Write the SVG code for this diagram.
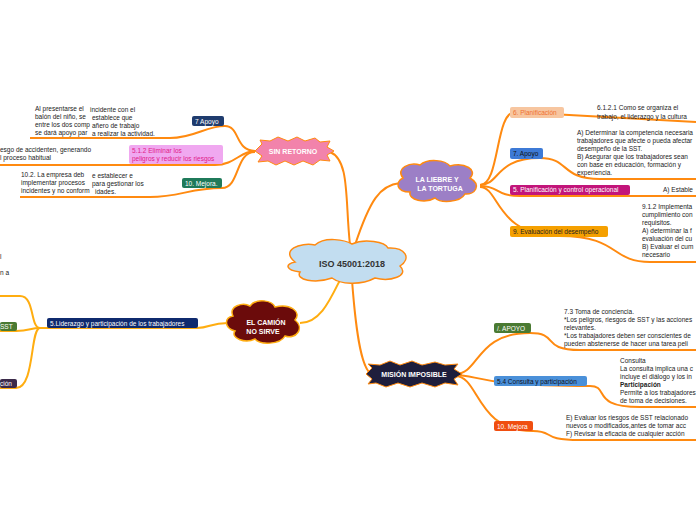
<svg xmlns="http://www.w3.org/2000/svg" width="696" height="520" viewBox="0 0 696 520">
<style>
text{font-family:"Liberation Sans",Arial,sans-serif;font-size:6.5px;fill:#222}
.lb{font-size:6.5px;fill:#fff}
.c{fill:none;stroke:#ff8a10;stroke-width:2}
.y{fill:none;stroke:#ffad10;stroke-width:2}
.t{font-weight:bold;font-size:8px;fill:#fff;text-anchor:middle}
</style>
<rect width="696" height="520" fill="#fff"/>
<g id="connectors">
<path class="c" d="M350,245 C345,200 350,160 330,152"/>
<path class="c" d="M355,245 C370,200 380,185 400,183"/>
<path class="y" d="M340,280 C330,300 320,323 300,323"/>
<path class="c" d="M352,280 C355,320 360,370 372,374"/>
<path class="c" d="M480,185 C500,185 495,112 515,112 L696,122"/>
<path class="c" d="M480,185 C500,185 495,158 540,158 C570,158 560,179 600,179 L696,179"/>
<path class="c" d="M480,186 C500,186 495,196 520,196 L696,196"/>
<path class="c" d="M480,187 C500,187 495,236 560,236 C620,236 610,262 650,262 L696,262"/>
<path class="c" d="M455,374 C480,374 475,333 530,333 C560,333 540,350 580,350 L696,350"/>
<path class="c" d="M455,375 C480,375 475,386 590,386 C610,386 590,407 640,407 L696,407"/>
<path class="c" d="M455,376 C480,376 475,431 533,431 C555,431 540,440 580,440 L696,440"/>
<path class="c" d="M255,151 C235,151 240,126 225,126 C205,126 195,138 170,138 L30,138"/>
<path class="c" d="M255,151 C240,151 235,165 215,165 L0,165"/>
<path class="c" d="M255,152 C235,152 240,188 222,188 C190,188 180,197 150,197 L20,197"/>
<path class="y" d="M228,323 C210,323 210,328 197,328 L40,328"/>
<path class="y" d="M40,328 C30,328 35,296 20,296 L0,296"/>
<path class="y" d="M40,328 C30,328 30,331 16,331 L0,331"/>
<path class="y" d="M40,328 C30,328 35,388 16,388 L0,388"/>
</g>
<g id="center"><path d="M295,262 C280,250 300,242 315,245 C325,236 345,240 352,244 C365,238 385,242 388,248 C405,247 412,258 400,266 C410,276 390,282 375,278 C360,286 340,284 332,278 C315,284 295,280 300,272 C285,270 285,264 295,262Z" fill="#c2ddf0" stroke="#ff8a10" stroke-width="1.5"/><text x="352" y="267" style="font-weight:bold;font-size:9px;fill:#333;text-anchor:middle">ISO 45001:2018</text></g>
<g id="liebre"><path d="M403,178 C395,168 410,162 420,165 C428,158 445,160 450,166 C465,162 478,170 470,178 C482,185 475,195 465,194 C460,203 440,203 435,198 C425,204 408,200 410,192 C396,192 395,182 403,178Z" fill="#9c7fc6" stroke="#ff8a10" stroke-width="1.5"/><text class="t" x="437" y="182" style="font-size:7px">LA LIEBRE Y</text><text class="t" x="440" y="191" style="font-size:7px">LA TORTUGA</text></g>
<g id="sinretorno"><polygon points="255,151 262,144 260,140 270,141 278,137 288,141 297,137 305,141 315,138 320,142 330,141 327,147 334,151 327,155 330,161 320,160 313,165 303,161 294,165 285,161 276,165 268,161 258,162 262,156" fill="#f283ab" stroke="#ff8a10" stroke-width="1"/><text class="t" x="293" y="154" style="font-size:7px">SIN RETORNO</text></g>
<g id="camion"><path d="M233,316 C228,306 243,302 250,306 C256,298 272,300 275,307 C290,303 302,312 295,320 C305,328 296,340 285,336 C280,345 260,345 255,339 C245,344 230,338 235,331 C224,328 224,318 233,316Z" fill="#6b0b0b" stroke="#ffad10" stroke-width="1.5"/><text class="t" x="266" y="325" style="font-size:7px">EL CAMIÓN</text><text class="t" x="263" y="334" style="font-size:7px">NO SIRVE</text></g>
<g id="mision"><polygon points="366,374 372,368 368,364 380,365 390,361 400,365 412,361 422,365 435,362 445,365 458,364 454,369 462,374 454,379 458,385 445,383 435,387 422,383 410,387 398,383 386,387 376,383 368,384 372,379" fill="#1e1e3c" stroke="#ff8a10" stroke-width="1"/><text class="t" x="414" y="377" style="font-size:7px">MISIÓN IMPOSIBLE</text></g>
<g id="r1"><rect x="510" y="107" width="54" height="11" rx="2" fill="#f7c6a0"/><text x="513" y="115" style="fill:#f07030">6. Planificación</text><text x="597" y="110">6.1.2.1 Como se organiza el</text><text x="597" y="119">trabajo, el  liderazgo y la cultura</text></g>
<g id="r2"><rect x="510" y="148" width="33" height="11" rx="2" fill="#3d7ad6"/><text class="lb" x="513" y="156" style="fill:#111">7. Apoyo</text><text x="577" y="135">A)  Determinar la competencia necesaria</text><text x="577" y="143">trabajadores que afecte o pueda afectar</text><text x="577" y="151">desempeño de  la SST.</text><text x="577" y="159">B) Asegurar que los trabajadores sean</text><text x="577" y="167">con base en educación, formación y</text><text x="577" y="175">experiencia.</text></g>
<g id="r3"><rect x="510" y="185" width="120" height="10" rx="2" fill="#c2157a"/><text class="lb" x="513" y="192">5. Planificación y control operacional</text><text x="663" y="192">A) Estable</text></g>
<g id="r4"><rect x="510" y="226" width="98" height="11" rx="2" fill="#f5a000"/><text x="513" y="234">9. Evaluación del desempeño</text><text x="642" y="209">9.1.2 Implementa</text><text x="642" y="217">cumplimiento con</text><text x="642" y="225">requisitos.</text><text x="642" y="233">A) determinar la f</text><text x="642" y="241">evaluación del cu</text><text x="642" y="249">B) Evaluar el cum</text><text x="642" y="257">necesario</text></g>
<g id="b1"><rect x="494" y="323" width="37" height="10" rx="2" fill="#4a7a32"/><text class="lb" x="497" y="331">/. APOYO</text><text x="564" y="314">7.3 Toma de conciencia.</text><text x="564" y="322">*Los peligros, riesgos de SST y las acciones</text><text x="564" y="330">relevantes.</text><text x="564" y="338">*Los trabajadores deben ser conscientes de</text><text x="564" y="346">pueden abstenerse de hacer una tarea peli</text></g>
<g id="b2"><rect x="494" y="376" width="93" height="10" rx="2" fill="#4a90d9"/><text x="497" y="384" style="fill:#112">5.4 Consulta y participación</text><text x="620" y="363">Consulta</text><text x="620" y="371">La consulta implica una c</text><text x="620" y="379">incluye el diálogo y los in</text><text x="620" y="387" style="font-weight:bold">Participación</text><text x="620" y="395">Permite a los trabajadores</text><text x="620" y="403">de toma de decisiones.</text></g>
<g id="b3"><rect x="494" y="421" width="39" height="10" rx="2" fill="#f04e10"/><text class="lb" x="497" y="429">10. Mejora</text><text x="566" y="420">E) Evaluar los riesgos de SST relacionado</text><text x="566" y="428">nuevos o modificados,antes de tomar acc</text><text x="566" y="436">F) Revisar la eficacia de cualquier acción</text></g>
<g id="l1"><rect x="192" y="116" width="32" height="10" rx="2" fill="#1f3c6e"/><text class="lb" x="195" y="124">7 Apoyo</text><text x="35" y="111">Al presentarse el</text><text x="35" y="119">balón del niño, se</text><text x="35" y="127">entre los dos comp</text><text x="35" y="135">se dará apoyo par</text><text x="90" y="112">incidente con el</text><text x="92" y="120">establece que</text><text x="92" y="128">añero de trabajo</text><text x="92" y="136">a realizar la actividad.</text></g>
<g id="l2"><rect x="129" y="145" width="94" height="19" rx="2" fill="#f0a8f0"/><text x="132" y="153" style="fill:#e0208a">5.1.2 Eliminar los</text><text x="132" y="161" style="fill:#e0208a">peligros y reducir los riesgos</text><text x="0" y="152">esgo de accidenten, generando</text><text x="0" y="160">l proceso habitual</text></g>
<g id="l3"><rect x="182" y="178" width="40" height="10" rx="2" fill="#1f7a5a"/><text class="lb" x="185" y="186">10. Mejora.</text><text x="21" y="177">10.2.  La empresa deb</text><text x="21" y="185">implementar procesos</text><text x="21" y="193">incidentes y no conform</text><text x="92" y="178">e establecer e</text><text x="92" y="186">para gestionar los</text><text x="95" y="194">idades.</text></g>
<g id="l4"><rect x="47" y="318" width="151" height="10" rx="2" fill="#0f2a6e"/><text class="lb" x="50" y="326">5.Liderazgo y participación de los trabajadores</text><text x="0" y="259">l</text><text x="0" y="275">n a</text><rect x="0" y="322" width="17" height="9" rx="2" fill="#4a7a32"/><text class="lb" x="0" y="329">SST</text><rect x="0" y="379" width="17" height="9" rx="2" fill="#3b2a4a"/><text class="lb" x="0" y="386">ción</text></g>
</svg>
